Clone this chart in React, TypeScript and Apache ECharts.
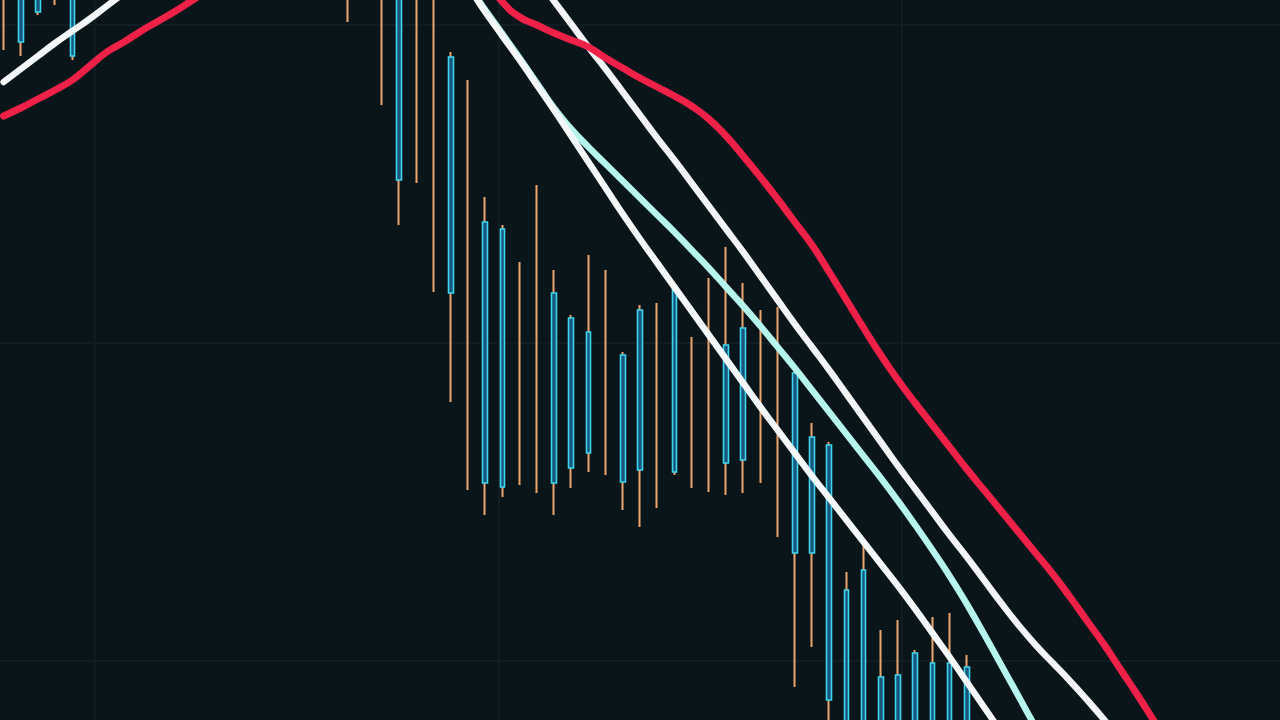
import React, { useEffect, useRef } from "react";
import * as echarts from "echarts";

// Category labels (one per candle)
const CATEGORIES: string[] = Array.from({ length: 75 }, (_, i) => `T${i + 1}`);

// Candle values
const OPEN = [
  196.0, 201.0, 202.0, 199.8, 200.5, 203.0, 207.0, 204.0, 209.5, 213.0,
  210.0, 215.0, 212.0, 217.0, 213.5, 211.0, 215.0, 210.5, 208.0, 212.0,
  199.0, 204.0, 192.0, 201.0, 184.0, 174.0, 194.3, 154.0, 177.8, 177.1,
  153.0, 153.0, 170.7, 168.2, 166.8, 154.0, 164.5, 169.0, 151.0, 171.1,
  152.5, 153.0, 165.5, 167.2, 153.0, 148.0, 162.7, 156.3, 155.5, 141.0,
  143.0, 132.3, 132.5, 134.7, 133.7, 133.7, 133.3, 120.0, 123.0, 116.0,
  109.0, 114.0, 107.0, 100.0, 104.0, 97.0, 91.0, 95.0, 89.0, 83.0,
  86.0, 79.0, 82.0, 77.0, 72.0,
];
const CLOSE = [
  202.0, 195.8, 198.8, 203.0, 194.4, 207.0, 204.0, 209.5, 213.0, 210.0,
  215.0, 212.0, 217.0, 213.5, 211.0, 215.0, 210.5, 208.0, 212.0, 206.0,
  203.0, 202.0, 201.0, 182.0, 202.0, 198.0, 170.7, 190.0, 151.7, 151.3,
  172.0, 180.0, 151.7, 153.2, 154.7, 171.0, 151.8, 153.0, 168.0, 152.8,
  165.0, 170.0, 153.7, 154.0, 167.5, 167.5, 144.7, 144.7, 130.0, 124.0,
  125.0, 122.0, 121.0, 120.0, 121.0, 120.0, 122.0, 124.0, 115.0, 110.0,
  115.0, 106.0, 101.0, 105.0, 96.0, 92.0, 96.0, 88.0, 84.0, 87.0,
  80.0, 83.0, 76.0, 73.0, 75.0,
];
const LOW = [
  195.0, 194.4, 198.5, 199.5, 194.0, 202.0, 203.0, 203.5, 208.5, 209.0,
  209.5, 211.0, 211.5, 212.5, 210.0, 210.5, 209.5, 207.0, 207.5, 205.0,
  197.8, 201.2, 189.5, 177.5, 181.7, 170.8, 159.8, 151.0, 148.5, 150.3,
  151.5, 150.7, 148.5, 151.2, 152.8, 152.5, 149.0, 147.3, 149.2, 152.5,
  151.2, 150.8, 150.5, 150.7, 151.7, 146.3, 131.3, 135.3, 125.5, 121.0,
  122.0, 120.0, 118.0, 117.0, 118.0, 116.0, 119.0, 118.0, 113.0, 107.0,
  107.0, 104.0, 99.0, 98.0, 94.0, 90.0, 89.0, 86.0, 82.0, 81.0,
  78.0, 77.0, 74.0, 71.0, 70.0,
];
const HIGH = [
  204.0, 203.0, 204.0, 204.5, 202.0, 208.5, 208.0, 210.5, 214.0, 214.5,
  216.0, 216.5, 218.0, 218.5, 215.0, 216.0, 216.5, 211.5, 213.0, 213.0,
  205.0, 206.0, 203.0, 204.0, 204.0, 201.0, 194.8, 192.0, 180.3, 177.5,
  173.8, 181.5, 173.0, 168.5, 174.5, 173.0, 164.8, 169.5, 169.7, 171.4,
  166.3, 172.2, 175.3, 171.7, 169.0, 169.3, 163.0, 157.7, 155.8, 142.8,
  146.0, 137.0, 138.0, 135.0, 138.3, 138.7, 134.5, 126.5, 125.0, 120.0,
  117.0, 116.0, 110.0, 107.0, 106.0, 100.0, 98.0, 97.0, 91.0, 89.0,
  88.0, 85.0, 84.0, 79.0, 77.0,
];

// Moving-average lines
const MA_FAST = [
  191.8, 193.1, 194.4, 195.7, 196.9, 198.1, 199.4, 200.7, 202.0, 203.2,
  204.4, 205.6, 206.7, 207.7, 208.6, 209.4, 210.0, 210.4, 210.6, 210.6,
  210.4, 209.9, 209.1, 208.0, 206.6, 205.0, 203.2, 201.3, 198.8, 196.4,
  194.0, 191.5, 189.0, 186.4, 183.8, 181.2, 178.6, 176.1, 173.7, 171.3,
  168.9, 166.5, 164.1, 161.7, 159.3, 157.0, 154.7, 152.4, 150.2, 148.0,
  145.8, 143.6, 141.4, 139.1, 136.7, 134.3, 131.8, 129.3, 126.8, 124.4,
  122.0, 119.6, 117.2, 114.8, 112.4, 110.0, 107.6, 105.2, 102.8, 100.4,
  98.0, 95.6, 93.2, 90.8, 88.4,
];
const MA_MID = [
  202.0, 203.2, 204.4, 205.5, 206.6, 207.6, 208.5, 209.3, 210.0, 210.6,
  211.1, 211.5, 211.8, 212.0, 212.1, 212.1, 212.0, 211.8, 211.5, 211.0,
  210.4, 209.6, 208.6, 207.4, 206.0, 204.5, 203.0, 201.4, 199.0, 196.6,
  194.2, 191.7, 189.2, 187.1, 185.3, 183.6, 181.9, 180.2, 178.5, 176.8,
  175.0, 173.2, 171.3, 169.4, 167.4, 165.3, 163.2, 161.0, 158.8, 156.6,
  154.4, 152.2, 149.9, 147.5, 145.0, 142.4, 139.6, 136.6, 133.5, 130.4,
  127.3, 124.5, 121.9, 119.3, 116.7, 114.1, 111.5, 108.9, 106.3, 103.7,
  101.1, 98.5, 95.9, 93.3, 90.7,
];
const MA_SLOW = [
  206.0, 207.0, 208.0, 208.9, 209.8, 210.6, 211.4, 212.1, 212.7, 213.3,
  213.8, 214.2, 214.6, 214.9, 215.1, 215.3, 215.4, 215.5, 215.5, 215.5,
  215.5, 215.5, 215.4, 215.1, 214.6, 213.8, 212.6, 211.0, 209.0, 206.8,
  204.5, 202.2, 199.9, 197.6, 195.3, 193.1, 190.8, 188.5, 186.2, 184.0,
  181.7, 179.4, 177.1, 174.8, 172.4, 170.0, 167.6, 165.3, 163.0, 160.6,
  158.2, 155.8, 153.4, 151.1, 148.8, 146.5, 144.3, 142.0, 139.7, 137.5,
  135.5, 133.7, 131.9, 130.0, 128.0, 125.9, 123.8, 121.7, 119.6, 117.5,
  115.4, 113.3, 111.2, 109.1, 107.0,
];
const MA_LONG = [
  188.4, 189.2, 190.1, 191.0, 192.0, 193.4, 194.8, 195.8, 196.9, 197.9,
  198.9, 200.0, 201.1, 202.2, 203.2, 204.1, 204.9, 205.6, 206.2, 206.7,
  207.1, 207.4, 207.6, 207.7, 207.6, 207.2, 206.4, 204.8, 202.2, 199.8,
  198.3, 197.5, 196.7, 196.0, 195.3, 194.2, 193.2, 192.2, 191.3, 190.4,
  189.4, 188.1, 186.4, 184.4, 182.3, 180.1, 177.8, 175.5, 172.8, 170.0,
  167.2, 164.5, 162.0, 159.7, 157.5, 155.3, 153.1, 151.0, 148.9, 146.8,
  144.7, 142.6, 140.3, 137.9, 135.5, 132.9, 130.3, 127.6, 125.0, 122.4,
  119.8, 117.2, 114.6, 112.0, 109.4,
];

const Y_MIN = 128;
const Y_MAX = 200;

const BG = "#0a1519";
const GRID_LINE = "#101d23";
const ORANGE = "#eaa66e";
const CYAN = "#3fd5ee";
const CYAN_FILL = "#17577c";

export default function App() {
  const ref = useRef<HTMLDivElement>(null);

  useEffect(() => {
    if (!ref.current) return;
    const chart = echarts.init(ref.current, undefined, { renderer: "svg" });

    const wickData = OPEN.map((o, i) => [o, CLOSE[i], LOW[i], HIGH[i]]);
    const bodyData = OPEN.map((o, i) =>
      CLOSE[i] < o ? [o, CLOSE[i], CLOSE[i], o] : ["-", "-", "-", "-"]
    );

    const hiddenAxis = {
      min: 0,
      max: 4,
      interval: 1,
      axisLine: { show: false },
      axisTick: { show: false },
      axisLabel: { show: false },
      splitLine: { show: true, lineStyle: { color: GRID_LINE, width: 2 } },
    };

    const line = (name: string, data: number[], color: string, width: number, z: number) => ({
      name,
      type: "line",
      data,
      smooth: 0.5,
      showSymbol: false,
      symbol: "none",
      clip: true,
      z,
      lineStyle: { color, width, cap: "round", join: "round" },
      emphasis: { disabled: true },
    });

    chart.setOption({
      animation: false,
      backgroundColor: BG,
      grid: [
        { left: -5, top: 0, width: 1290, height: 720, outerBoundsMode: "none", containLabel: false },
        { left: -308.5, top: -293, width: 1614, height: 1272, outerBoundsMode: "none", containLabel: false },
      ],
      xAxis: [
        { type: "category", data: CATEGORIES, show: false, boundaryGap: true },
        { type: "value", gridIndex: 1, ...hiddenAxis },
      ],
      yAxis: [
        { type: "value", min: Y_MIN, max: Y_MAX, show: false },
        { type: "value", gridIndex: 1, ...hiddenAxis },
      ],
      series: [
        {
          name: "wicks",
          type: "candlestick",
          data: wickData,
          barWidth: 0.6,
          clip: true,
          z: 2,
          itemStyle: {
            color: ORANGE,
            color0: ORANGE,
            borderColor: ORANGE,
            borderColor0: ORANGE,
            borderWidth: 2,
          },
        },
        {
          name: "bodies",
          type: "candlestick",
          data: bodyData,
          barWidth: 5,
          clip: true,
          z: 3,
          itemStyle: {
            color: CYAN_FILL,
            color0: CYAN_FILL,
            borderColor: CYAN,
            borderColor0: CYAN,
            borderWidth: 1.6,
          },
        },
        line("MA slow", MA_SLOW, "#f1f3f5", 6.5, 4),
        line("MA mid", MA_MID, "#b6f4ee", 6.5, 5),
        line("MA fast", MA_FAST, "#f4f7f7", 6.5, 6),
        line("MA long", MA_LONG, "#ef2149", 7, 7),
      ],
    });

    return () => chart.dispose();
  }, []);

  return (
    <div
      ref={ref}
      style={{ position: "fixed", left: 0, top: 0, width: 1280, height: 720 }}
    />
  );
}
